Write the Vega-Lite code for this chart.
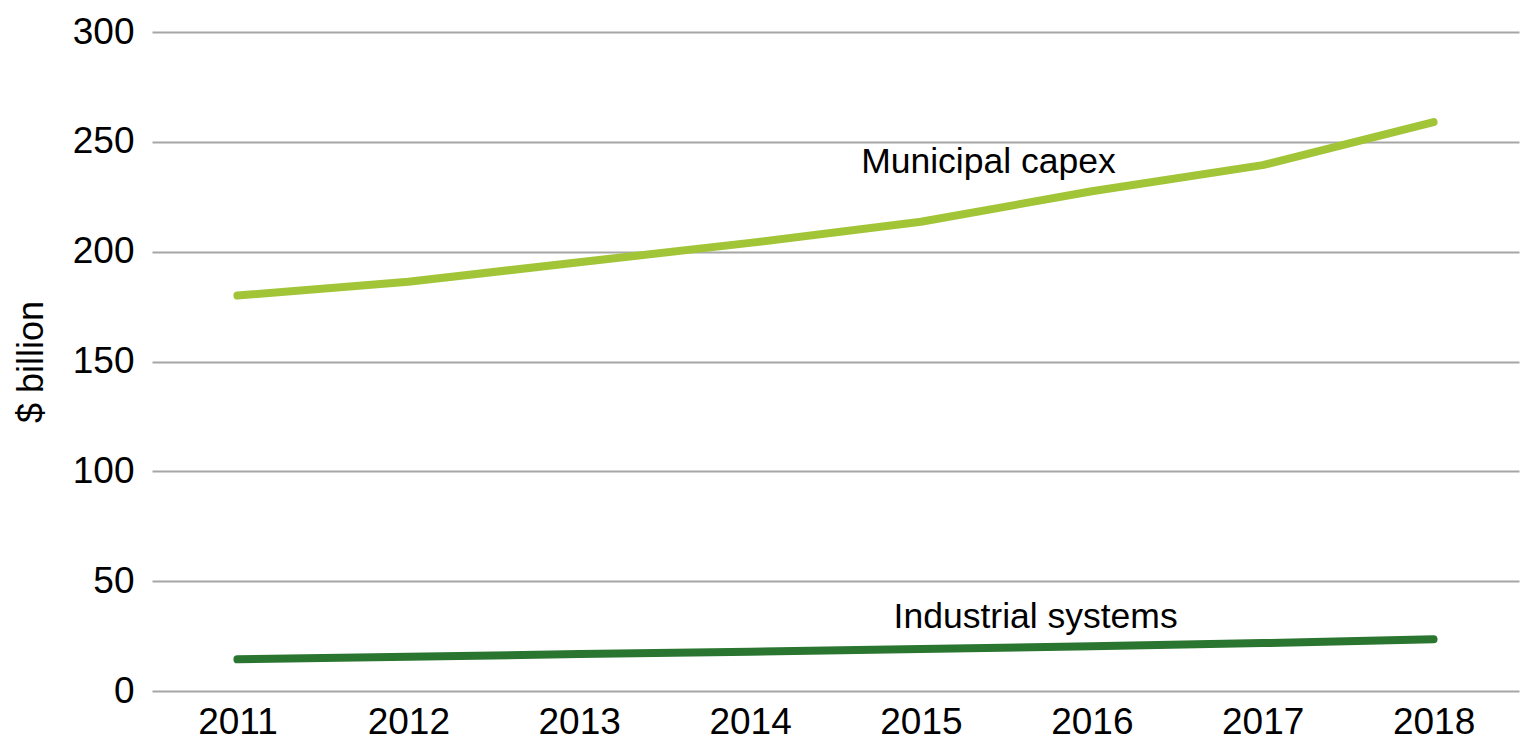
{
  "$schema": "https://vega.github.io/schema/vega-lite/v6.json",
  "autosize": "none",
  "width": 1367,
  "height": 659,
  "padding": {"left": 152, "top": 32, "right": 8, "bottom": 65},
  "background": "white",
  "config": {
    "view": {"stroke": null},
    "font": "Liberation Sans",
    "axis": {"labelFont": "Liberation Sans", "titleFont": "Liberation Sans", "labelColor": "#000000", "titleColor": "#000000"}
  },
  "datasets": {
    "series": [
      {"year": 2011, "series": "Municipal capex", "value": 180.0},
      {"year": 2012, "series": "Municipal capex", "value": 186.3},
      {"year": 2013, "series": "Municipal capex", "value": 195.2},
      {"year": 2014, "series": "Municipal capex", "value": 204.0},
      {"year": 2015, "series": "Municipal capex", "value": 213.6},
      {"year": 2016, "series": "Municipal capex", "value": 227.5},
      {"year": 2017, "series": "Municipal capex", "value": 239.4},
      {"year": 2018, "series": "Municipal capex", "value": 259.0},
      {"year": 2011, "series": "Industrial systems", "value": 14.4},
      {"year": 2012, "series": "Industrial systems", "value": 15.6},
      {"year": 2013, "series": "Industrial systems", "value": 16.8},
      {"year": 2014, "series": "Industrial systems", "value": 17.9},
      {"year": 2015, "series": "Industrial systems", "value": 19.1},
      {"year": 2016, "series": "Industrial systems", "value": 20.4},
      {"year": 2017, "series": "Industrial systems", "value": 21.8},
      {"year": 2018, "series": "Industrial systems", "value": 23.6}
    ],
    "labels": [
      {"x": 2014.65, "y": 240.8, "text": "Municipal capex"},
      {"x": 2014.84, "y": 33.6, "text": "Industrial systems"}
    ]
  },
  "layer": [
    {
      "data": {"name": "series"},
      "mark": {"type": "line", "strokeWidth": 8, "strokeCap": "round", "strokeJoin": "round"},
      "encoding": {
        "x": {
          "field": "year", "type": "quantitative",
          "scale": {"domain": [2010.5, 2018.5], "nice": false, "zero": false},
          "axis": {
            "values": [2011, 2012, 2013, 2014, 2015, 2016, 2017, 2018],
            "format": "d", "title": null, "grid": false, "domain": false, "ticks": false,
            "labelFontSize": 37, "labelPadding": 13
          }
        },
        "y": {
          "field": "value", "type": "quantitative",
          "scale": {"domain": [0, 300], "nice": false},
          "axis": {
            "values": [0, 50, 100, 150, 200, 250, 300],
            "title": "$ billion", "titleFontSize": 36, "titleFontWeight": "normal", "titlePadding": 22,
            "grid": true, "gridColor": "#A6A6A6", "gridWidth": 2, "domain": false, "ticks": false,
            "labelFontSize": 37, "labelPadding": 18
          }
        },
        "color": {
          "field": "series", "type": "nominal",
          "scale": {"domain": ["Municipal capex", "Industrial systems"], "range": ["#A2C538", "#2A7530"]},
          "legend": null
        }
      }
    },
    {
      "data": {"name": "labels"},
      "mark": {"type": "text", "align": "left", "baseline": "middle", "fontSize": 35.5, "color": "#000000"},
      "encoding": {
        "x": {"field": "x", "type": "quantitative"},
        "y": {"field": "y", "type": "quantitative"},
        "text": {"field": "text"}
      }
    }
  ]
}
